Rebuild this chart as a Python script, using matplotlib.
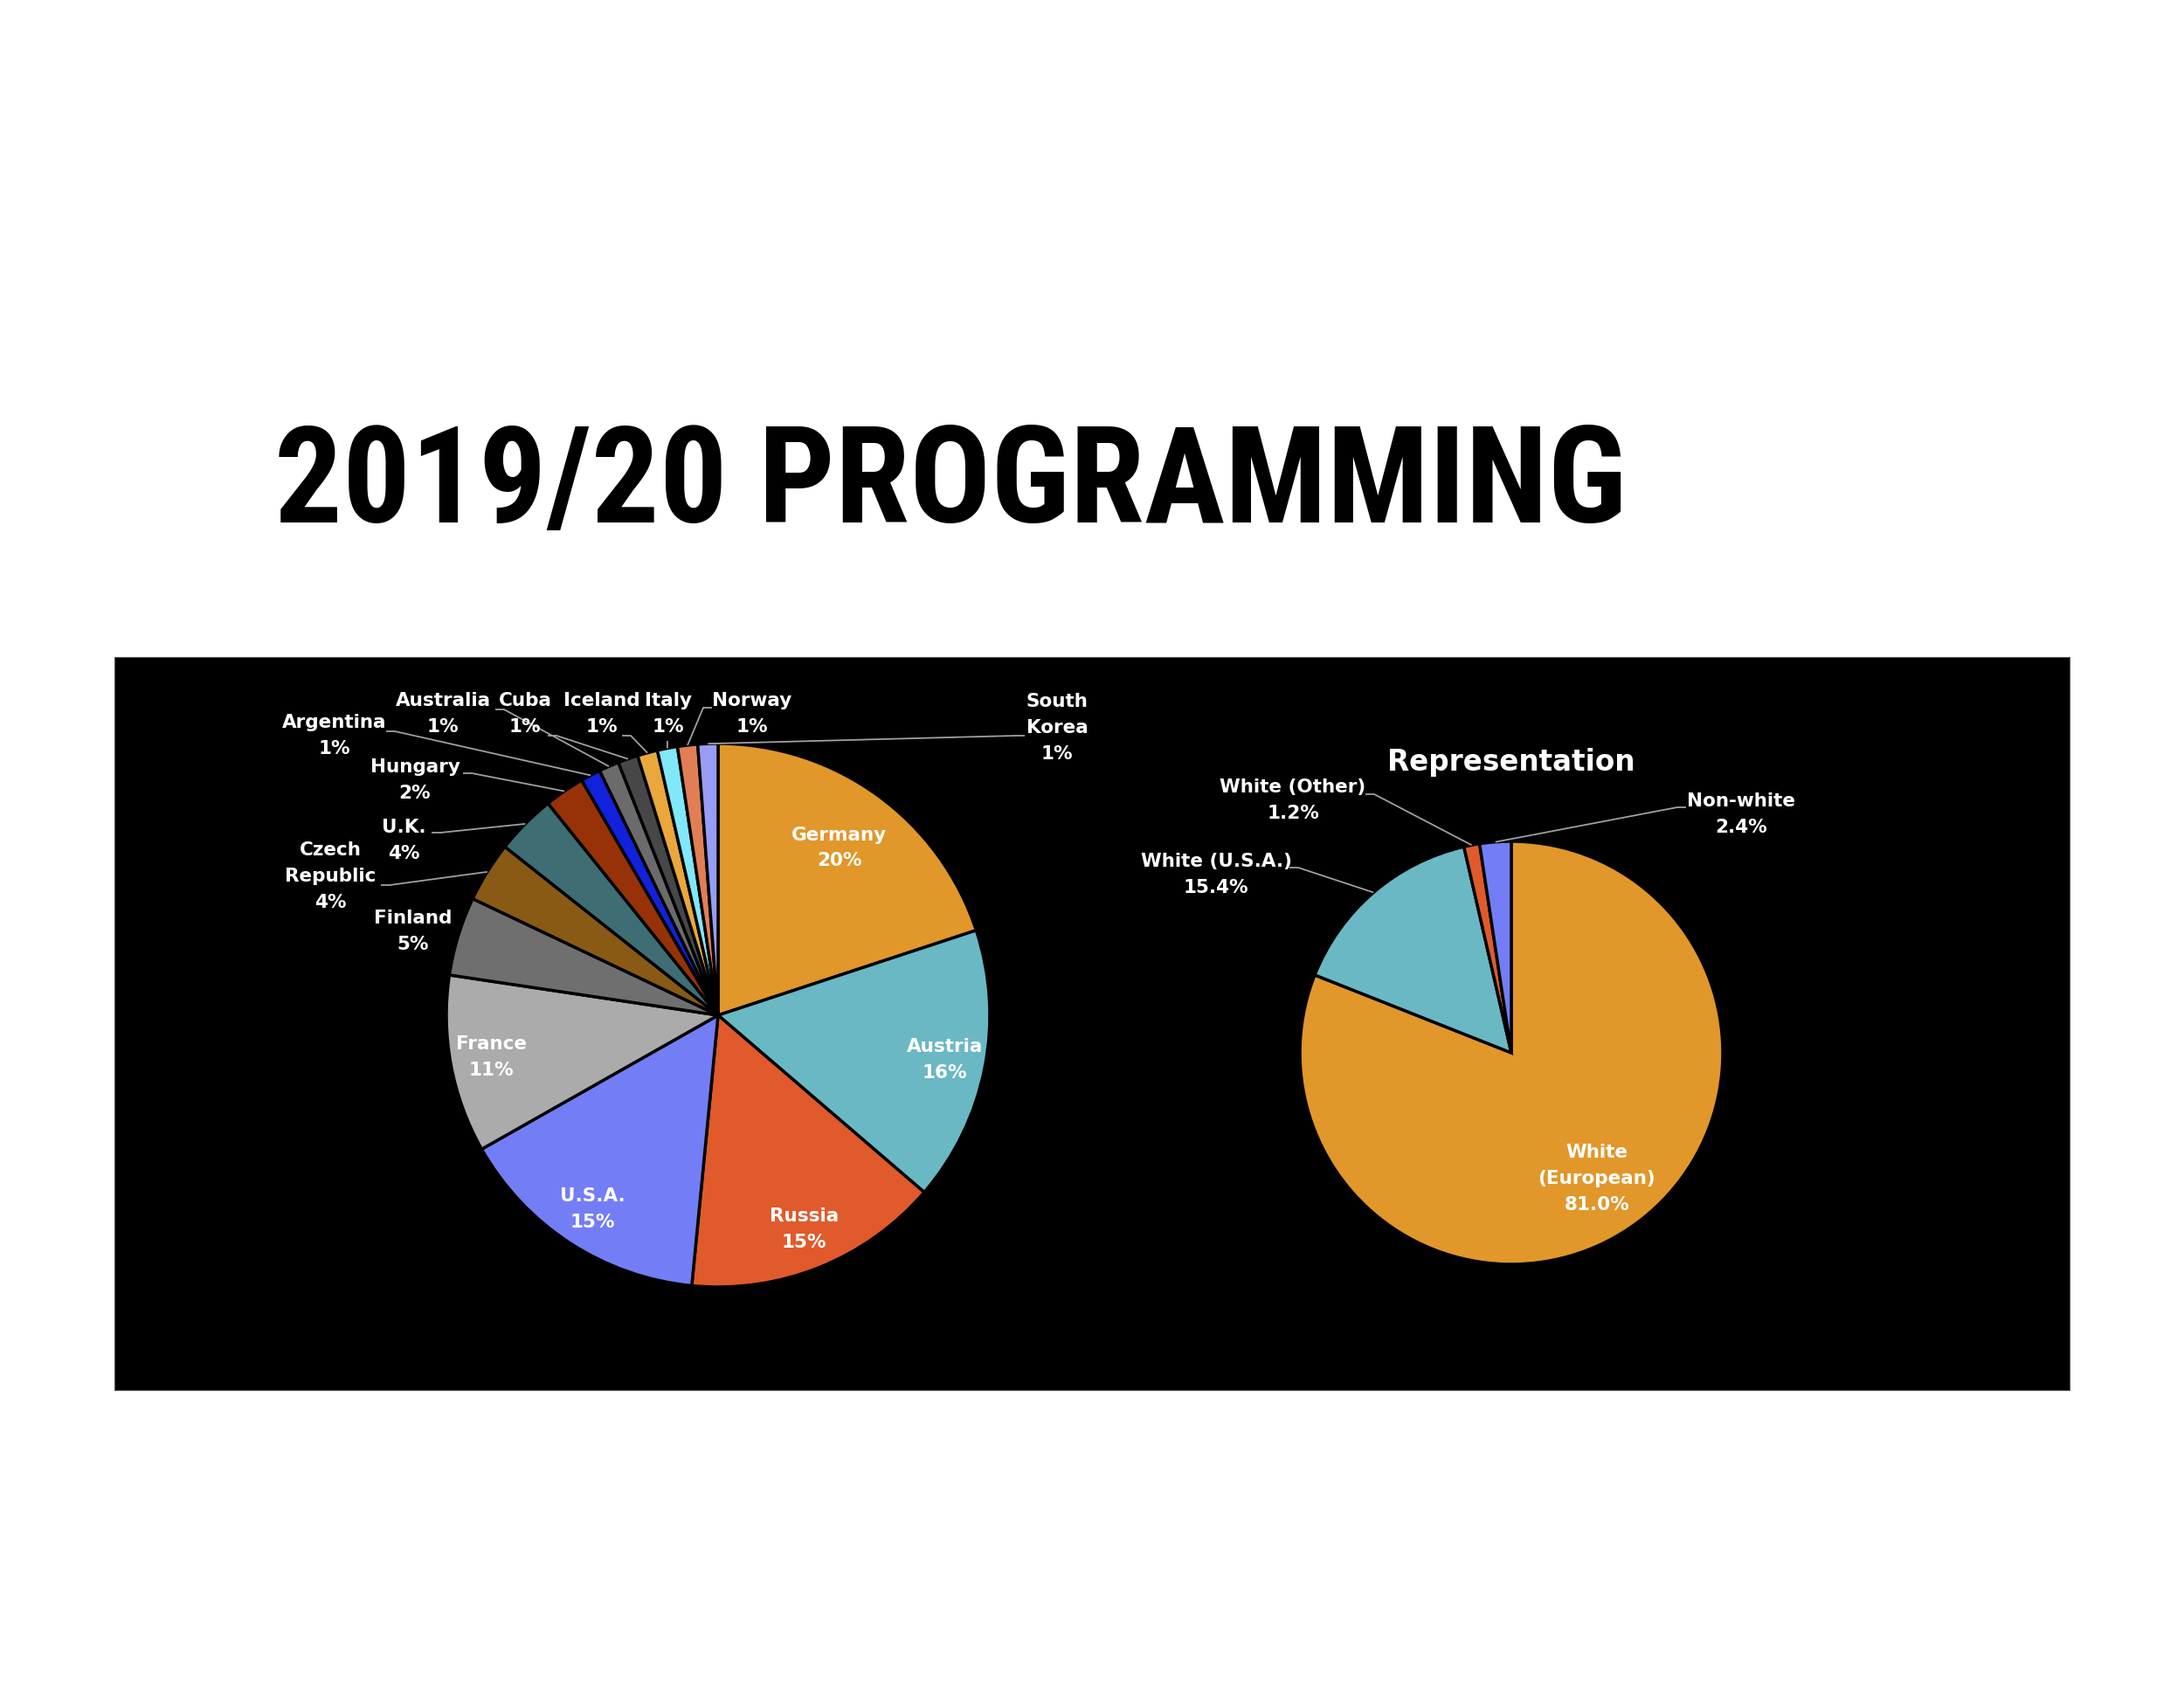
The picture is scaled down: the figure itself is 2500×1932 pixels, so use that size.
import numpy as np
import matplotlib
matplotlib.use("Agg")
import matplotlib.pyplot as plt
from matplotlib.patches import Rectangle

# --- data ---
countries = ["Germany", "Austria", "Russia", "U.S.A.", "France", "Finland",
             "Czech\nRepublic", "U.K.", "Hungary", "Argentina", "Australia",
             "Cuba", "Iceland", "Italy", "Norway", "South\nKorea"]
country_share = [20.0, 16.4, 15.3, 15.3, 10.6, 4.7, 3.6, 3.6, 2.4,
                 1.2, 1.2, 1.2, 1.2, 1.2, 1.2, 1.2]
country_colors = ["#E1972A", "#6AB8C4", "#E05A2B", "#737EF6", "#ABABAB",
                  "#6F6F6F", "#885A16", "#3E6D73", "#973208", "#1221DC",
                  "#6B6B6B", "#474747", "#EAA73B", "#80E8F8", "#E27E56",
                  "#989DF6"]

groups = ["White\n(European)", "White (U.S.A.)", "White (Other)", "Non-white"]
group_share = [81.0, 15.4, 1.2, 2.4]
group_colors = ["#E1972A", "#6AB8C4", "#E05A2B", "#737EF6"]

W, H = 2500, 1932
fig = plt.figure(figsize=(W / 100, H / 100), dpi=100)
fig.patch.set_facecolor("white")

# black panel behind the two pies
fig.patches.append(Rectangle((131 / W, 1 - 1591 / H), 2238 / W, 839 / H,
                             transform=fig.transFigure, facecolor="black",
                             edgecolor="#555555", linewidth=0.8, zorder=-5))

fig.text(314 / W, 1 - 598 / H, "2019/20 PROGRAMMING",
         family=["Roboto Condensed", "Liberation Sans Narrow", "Liberation Sans"],
         fontstretch="condensed", fontweight="bold",
         fontsize=111, va="baseline", ha="left", color="black")

LBL = dict(color="white", fontsize=15.5, fontweight="bold",
           family="DejaVu Sans", ha="center", va="center", linespacing=1.62)
LEADER = dict(color="#A0A0A0", linewidth=1.3, solid_capstyle="butt")


def make_pie(cx, cy, r, values, colors):
    half = 520
    ax = fig.add_axes([(cx - half) / W, 1 - (cy + half) / H,
                       2 * half / W, 2 * half / H])
    wedges, _ = ax.pie(values, radius=r, startangle=90, counterclock=False,
                       colors=colors,
                       wedgeprops=dict(edgecolor="black", linewidth=2.5))
    ax.set_xlim(-half, half)
    ax.set_ylim(-half, half)
    ax.axis("off")
    return ax, wedges


def mid_point(w, dist):
    a = np.deg2rad((w.theta1 + w.theta2) / 2)
    return dist * np.cos(a), dist * np.sin(a)


def label(ax, cx, cy, r, w, text, pos=None, frac=0.85, start=None):
    if pos is None:
        x, y = mid_point(w, frac * r)
    else:
        x, y = pos[0] - cx, cy - pos[1]
    ax.text(x, y, text, **LBL)
    if start is not None:
        sx, sy = start[0] - cx, cy - start[1]
        ex, ey = mid_point(w, r)
        tick = 0 if abs(ex - sx) < 15 else 10 * np.sign(ex - sx)
        ax.plot([sx, sx + tick, ex], [sy, sy, ey], **LEADER)


# --- left pie: countries ---
lcx, lcy, lr = 822, 1162, 311
axl, wl = make_pie(lcx, lcy, lr, country_share, country_colors)
pct = np.array(country_share) / sum(country_share) * 100
texts = [f"{n}\n{p:.0f}%" for n, p in zip(countries, pct)]

inside_frac = [0.76, 0.85, 0.85, 0.85, 0.85]
for i in range(5):
    label(axl, lcx, lcy, lr, wl[i], texts[i], frac=inside_frac[i])

out_pos = [(473, 1066), (378, 1003), (462, 962), (475, 893), (383, 842),
           (507, 817), (601, 817), (689, 817), (765, 817), (861, 817),
           (1210, 833)]
out_start = [None, (436, 1013), (494, 953), (530, 885), (442, 837),
             (567, 812), (627, 842), (712, 842), (764, 848), (815, 810),
             (1173, 842)]
for k, i in enumerate(range(5, len(countries))):
    label(axl, lcx, lcy, lr, wl[i], texts[i], pos=out_pos[k],
          start=out_start[k])

# --- right pie: representation ---
rcx, rcy, rr = 1730, 1205, 242
axr, wr = make_pie(rcx, rcy, rr, group_share, group_colors)
axr.text(0, rcy - 872, "Representation", color="white", fontsize=23.5,
         fontweight="bold", family="DejaVu Sans", ha="center", va="center")
gtexts = [f"{n}\n{v:.1f}%" for n, v in zip(groups, group_share)]
label(axr, rcx, rcy, rr, wr[0], gtexts[0], frac=0.72)
g_pos = [(1392, 1001), (1480, 916), (1993, 932)]
g_start = [(1476, 993), (1563, 909), (1930, 924)]
for k in range(3):
    label(axr, rcx, rcy, rr, wr[k + 1], gtexts[k + 1], pos=g_pos[k],
          start=g_start[k])

fig.savefig("out.png", dpi=100, facecolor="white")
